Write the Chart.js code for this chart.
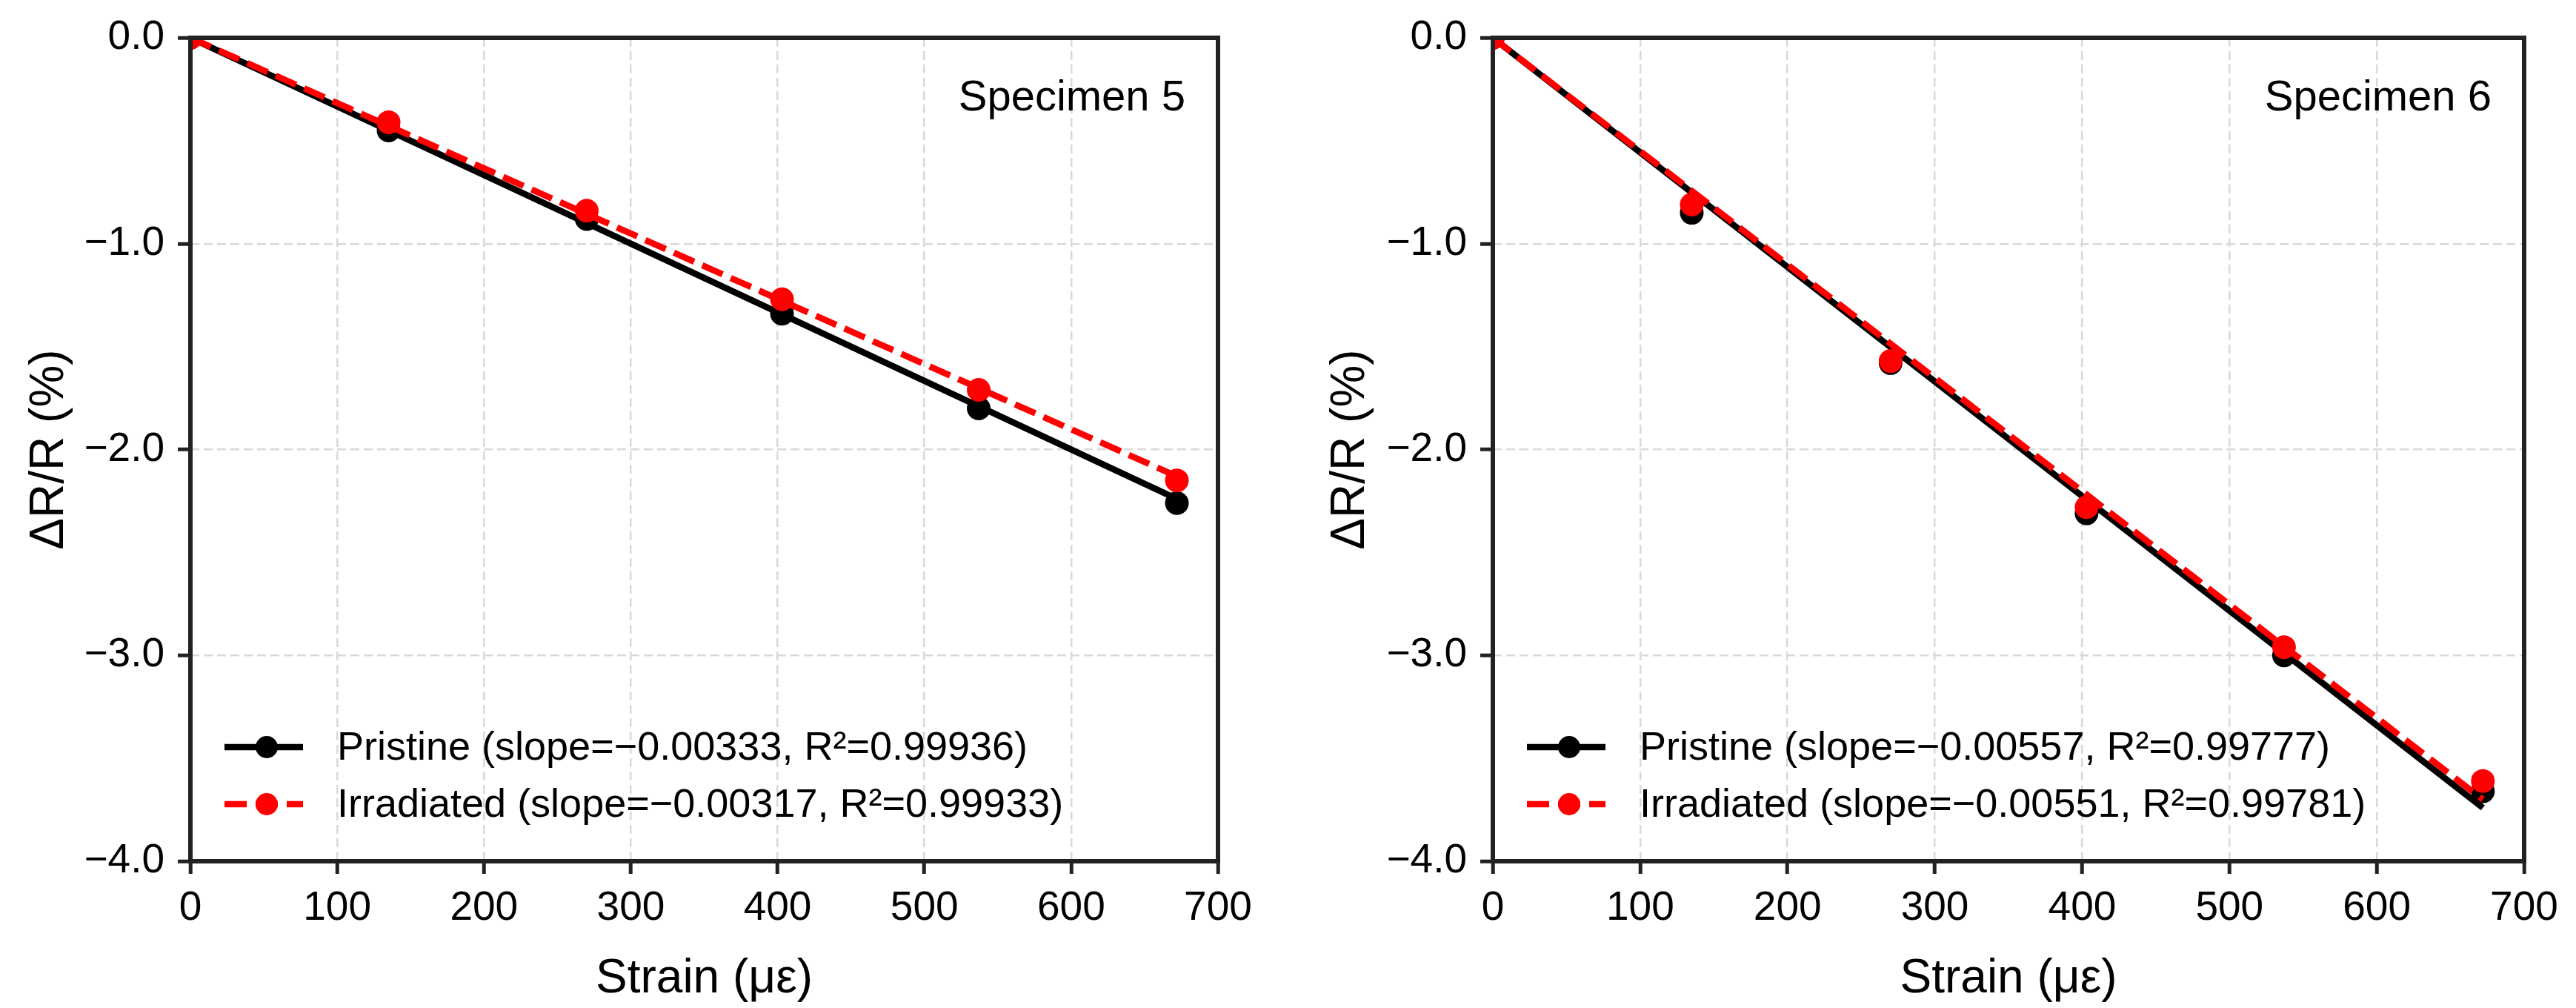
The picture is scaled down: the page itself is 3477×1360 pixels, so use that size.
<!DOCTYPE html>
<html>
<head>
<meta charset="utf-8">
<script src="https://cdn.jsdelivr.net/npm/chart.js@4.4.1/dist/chart.umd.min.js"></script>
<style>
  html, body { margin: 0; padding: 0; background: #fff; }
  #wrap { position: relative; width: 3477px; height: 1360px; }
  canvas { position: absolute; top: 0; }
</style>
</head>
<body>
<div id="wrap">
  <canvas id="chart5" width="1738" height="1360" style="left:0px"></canvas>
  <canvas id="chart6" width="1739" height="1360" style="left:1738px"></canvas>
</div>
<script>
// strain steps (με)
const strain = [0, 135, 270, 403, 537, 672];

// Specimen 5, ΔR/R (%)
const pristine5 = [0, -0.45, -0.88, -1.34, -1.8, -2.26];
const irradiated5 = [0, -0.41, -0.84, -1.27, -1.71, -2.15];
// Specimen 6
const pristine6 = [0, -0.85, -1.58, -2.31, -3.0, -3.66];
const irradiated6 = [0, -0.81, -1.57, -2.28, -2.96, -3.61];

// fitted lines, start / end of the strain range
const fitX = [0, 672];
const pristineFit5 = [0, -2.24];
const irradiatedFit5 = [0, -2.13];
const pristineFit6 = [0, -3.74];
const irradiatedFit6 = [0, -3.7];

const panelNames = ["Specimen 5", "Specimen 6"];
const pristineLabels = [
  "Pristine (slope=\u22120.00333, R\u00b2=0.99936)",
  "Pristine (slope=\u22120.00557, R\u00b2=0.99777)",
];
const irradiatedLabels = [
  "Irradiated (slope=\u22120.00317, R\u00b2=0.99933)",
  "Irradiated (slope=\u22120.00551, R\u00b2=0.99781)",
];
const xTicks = [0, 700, 100]; // min, max, step
const yTicks = [-4, 0, 1];

const FONT = "'Liberation Sans', Arial, sans-serif";
Chart.defaults.font.family = FONT;
Chart.defaults.color = "#000";

function pts(xs, ys) {
  return xs.map(function (x, i) {
    return { x: x, y: ys[i] };
  });
}

// frame, legend and specimen name drawn inside the axes
const panelPlugin = {
  id: "panel",
  afterDatasetsDraw: function (chart, args, opts) {
    const ctx = chart.ctx;
    const a = chart.chartArea;
    ctx.save();
    ctx.strokeStyle = "#222";
    ctx.lineWidth = 6;
    ctx.strokeRect(a.left, a.top, a.right - a.left, a.bottom - a.top);

    ctx.fillStyle = "#000";
    ctx.font = "58px " + FONT;
    ctx.textAlign = "right";
    ctx.textBaseline = "alphabetic";
    ctx.fillText(opts.name, a.right - 44, a.top + 98);

    // legend rows
    const rows = [
      { label: opts.labels[0], color: "#000", dash: [] },
      { label: opts.labels[1], color: "#ff0000", dash: [30, 12] },
    ];
    rows.forEach(function (r, i) {
      const base = a.bottom - 137 + i * 77;
      const ly = base - 17;
      ctx.strokeStyle = r.color;
      ctx.lineWidth = 8.5;
      ctx.setLineDash(r.dash);
      ctx.beginPath();
      ctx.moveTo(a.left + 46, ly);
      ctx.lineTo(a.left + 152, ly);
      ctx.stroke();
      ctx.setLineDash([]);
      ctx.fillStyle = r.color;
      ctx.beginPath();
      ctx.arc(a.left + 103, ly, 15, 0, Math.PI * 2);
      ctx.fill();
      ctx.fillStyle = "#000";
      ctx.font = "54px " + FONT;
      ctx.textAlign = "left";
      ctx.fillText(r.label, a.left + 198, base);
    });
    ctx.restore();
  },
};

function makeChart(id, k, pri, irr, priFit, irrFit, yAxisWidth, yTitlePad, padTop, padRight) {
  const ctx = document.getElementById(id).getContext("2d");
  const data = {
    datasets: [
      {
        label: pristineLabels[k],
        data: pts(fitX, priFit),
        borderColor: "#000",
        borderWidth: 8.5,
        pointRadius: 0,
        clip: 0,
        order: 4,
      },
      {
        label: pristineLabels[k] + " points",
        data: pts(strain, pri),
        showLine: false,
        pointRadius: 16,
        pointBackgroundColor: "#000",
        pointBorderWidth: 0,
        clip: 0,
        order: 3,
      },
      {
        label: irradiatedLabels[k],
        data: pts(fitX, irrFit),
        borderColor: "#ff0000",
        borderWidth: 8.5,
        borderDash: [30, 12],
        pointRadius: 0,
        clip: 0,
        order: 2,
      },
      {
        label: irradiatedLabels[k] + " points",
        data: pts(strain, irr),
        showLine: false,
        pointRadius: 16,
        pointBackgroundColor: "#ff0000",
        pointBorderWidth: 0,
        clip: 0,
        order: 1,
      },
    ],
  };

  const config = {
    type: "line",
    data: data,
    options: {
      responsive: false,
      devicePixelRatio: 1,
      animation: false,
      layout: { padding: { left: 0, top: padTop, right: padRight, bottom: 0 } },
      plugins: {
        legend: { display: false },
        tooltip: { enabled: false },
        panel: {
          name: panelNames[k],
          labels: [pristineLabels[k], irradiatedLabels[k]],
        },
      },
      scales: {
        x: {
          type: "linear",
          min: xTicks[0],
          max: xTicks[1],
          afterFit: function (scale) {
            scale.height = 198;
          },
          ticks: {
            stepSize: xTicks[2],
            padding: 14,
            font: { size: 55 },
            color: "#000",
            maxRotation: 0,
          },
          grid: {
            color: "#d9d9d9",
            lineWidth: 2.5,
            tickLength: 17,
            tickWidth: 5,
            tickColor: "#222",
          },
          border: { display: false, dash: [12, 6] },
          title: {
            display: true,
            text: "Strain (\u03bc\u03b5)",
            font: { size: 64 },
            color: "#000",
            padding: { top: 0, bottom: 0 },
          },
        },
        y: {
          type: "linear",
          min: yTicks[0],
          max: yTicks[1],
          afterFit: function (scale) {
            scale.width = yAxisWidth;
          },
          ticks: {
            stepSize: yTicks[2],
            padding: 18,
            font: { size: 55 },
            color: "#000",
            callback: function (v) {
              return v.toFixed(1).replace("-", "\u2212");
            },
          },
          grid: {
            color: "#d9d9d9",
            lineWidth: 2.5,
            tickLength: 17,
            tickWidth: 5,
            tickColor: "#222",
          },
          border: { display: false, dash: [12, 6] },
          title: {
            display: true,
            text: "\u0394R/R (%)",
            font: { size: 64 },
            color: "#000",
            padding: { top: yTitlePad, bottom: 0 },
          },
        },
      },
    },
    plugins: [panelPlugin],
  };

  return new Chart(ctx, config);
}

window.onload = function () {
  makeChart("chart5", 0, pristine5, irradiated5, pristineFit5, irradiatedFit5, 257, 29, 50, 94);
  makeChart("chart6", 1, pristine6, irradiated6, pristineFit6, irradiatedFit6, 277, 47, 46, 70);
};
</script>
</body>
</html>
